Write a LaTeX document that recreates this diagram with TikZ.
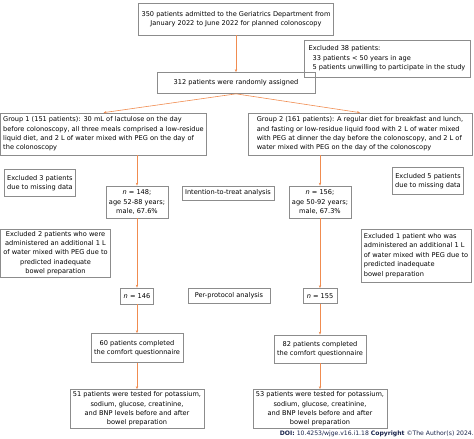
\documentclass[tikz,border=0pt]{standalone}
\usepackage{fontspec}
\setmainfont{DejaVu Sans}
\usetikzlibrary{arrows.meta}
\definecolor{connc}{RGB}{240,140,80}
\definecolor{bordc}{RGB}{140,140,140}
\definecolor{doic}{RGB}{25,35,75}
\begin{document}
\begin{tikzpicture}[x=1pt,y=-1pt,
  box/.style={draw=bordc, line width=0.7pt, inner xsep=3pt, inner ysep=2pt,
    font=\fontsize{6.6}{9.4}\selectfont, align=center},
  lbox/.style={box, align=left},
  conn/.style={draw=connc, line width=0.6pt, -{Stealth[length=3pt,width=2.4pt]}}]
\useasboundingbox (0,0) rectangle (474,439);

\node[box, minimum width=142pt, minimum height=32pt] (top) at (236,19)
  {350 patients admitted to the Geriatrics Department from\\January 2022 to June 2022 for planned colonoscopy};
\node[lbox, minimum width=166pt, minimum height=37pt] (ex38) at (387,58.5)
  {Excluded 38 patients:\\\hspace*{0.6em}33 patients < 50 years in age\\\hspace*{0.6em}5 patients unwilling to participate in the study};
\node[box, minimum width=158pt, minimum height=21pt] (r312) at (236,83)
  {312 patients were randomly assigned};
\node[lbox, minimum width=203pt, minimum height=42pt] (g1) at (103.5,134)
  {Group 1 (151 patients): 30 mL of lactulose on the day\\before colonoscopy, all three meals comprised a low-residue\\liquid diet, and 2 L of water mixed with PEG on the day of\\the colonoscopy};
\node[lbox, minimum width=224pt, minimum height=42pt] (g2) at (360,134)
  {Group 2 (161 patients): A regular diet for breakfast and lunch,\\and fasting or low-residue liquid food with 2 L of water mixed\\with PEG at dinner the day before the colonoscopy, and 2 L of\\water mixed with PEG on the day of the colonoscopy};
\node[lbox, minimum width=70pt, minimum height=27pt] (ex3) at (40,183)
  {Excluded 3 patients\\due to missing data};
\node[box, minimum width=62pt, minimum height=32pt] (n148) at (137,202)
  {\textit{n} = 148;\\age 52-88 years;\\male, 67.6\%};
\node[box, minimum width=88pt, minimum height=14pt] (itt) at (228,193)
  {Intention-to-treat analysis};
\node[box, minimum width=62pt, minimum height=32pt] (n156) at (320,202)
  {\textit{n} = 156;\\age 50-92 years;\\male, 67.3\%};
\node[box, minimum width=70pt, minimum height=27pt] (ex5) at (428,181)
  {Excluded 5 patients\\due to missing data};
\node[box, minimum width=105pt, minimum height=48pt] (ex2) at (55.5,253)
  {Excluded 2 patients who were\\administered an additional 1 L\\of water mixed with PEG due to\\predicted inadequate\\bowel preparation};
\node[lbox, minimum width=108pt, minimum height=53pt] (ex1) at (416,255.5)
  {Excluded 1 patient who was\\administered an additional 1 L\\of water mixed with PEG due to\\predicted inadequate\\bowel preparation};
\node[box, minimum width=32pt, minimum height=16pt] (n146) at (137,296)
  {\textit{n} = 146};
\node[box, minimum width=82pt, minimum height=15pt] (pp) at (229,296)
  {Per-protocol analysis};
\node[box, minimum width=34pt, minimum height=15pt] (n155) at (320,296)
  {\textit{n} = 155};
\node[box, minimum width=91pt, minimum height=29pt] (q60) at (137,348)
  {60 patients completed\\the comfort questionnaire};
\node[box, minimum width=91pt, minimum height=28pt] (q82) at (320,349)
  {82 patients completed\\the comfort questionnaire};
\node[box, minimum width=129pt, minimum height=39pt] (t51) at (137,409)
  {51 patients were tested for potassium,\\sodium, glucose, creatinine,\\and BNP levels before and after\\bowel preparation};
\node[box, minimum width=128pt, minimum height=39pt] (t53) at (320,409)
  {53 patients were tested for potassium,\\sodium, glucose, creatinine,\\and BNP levels before and after\\bowel preparation};
\node[anchor=east, inner sep=0pt, text=doic, font=\fontsize{6.1}{7}\selectfont] (doi) at (474,434)
  {\textbf{DOI:} 10.4253/wjge.v16.i1.18 \textbf{Copyright} ©The Author(s) 2024.};

\draw[conn] (top) -- (r312);
\draw[conn] (r312.south) -- (g1.north);
\draw[conn] (r312.south) -- (g2.north);
\draw[conn] (n148.north |- g1.south) -- (n148.north);
\draw[conn] (n156.north |- g2.south) -- (n156.north);
\draw[conn] (n148) -- (n146);
\draw[conn] (n156) -- (n155);
\draw[conn] (n146) -- (q60);
\draw[conn] (n155) -- (q82);
\draw[conn] (q60) -- (t51);
\draw[conn] (q82) -- (t53);
\end{tikzpicture}
\end{document}
